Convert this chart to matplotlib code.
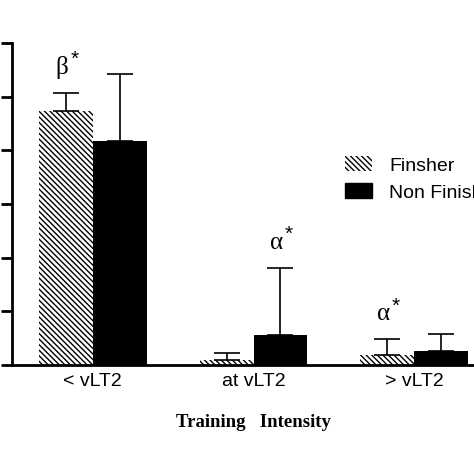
import matplotlib
matplotlib.use("Agg")
import matplotlib.pyplot as plt
import numpy as np
from matplotlib.patches import Patch

# time spent in each zone (% of training)
categories = ["< vLT2", "at vLT2", "> vLT2"]
finisher = [94.8, 1.9, 3.7]
finisher_err = [6.7, 2.6, 6.0]
non_finisher = [83.6, 11.2, 5.2]
non_finisher_err = [25.0, 25.0, 6.4]
yticks = [0, 20, 40, 60, 80, 100, 120]

# significance marks: (group, series, greek letter)
marks = [(0, 0, "β"), (1, 1, "α"), (2, 0, "α")]

plt.rcParams["hatch.linewidth"] = 1.0
plt.rcParams["font.family"] = "Liberation Sans"

fig = plt.figure(figsize=(4.74, 4.74), dpi=100)
# the original is a crop: y labels on the left and legend text on the right run off the canvas
ax = fig.add_axes([0.0253, 0.230, 1.12, 0.679])

x = np.arange(len(categories))
w = 0.335
hatch = "\\\\\\\\\\\\"
ax.bar(x - w / 2, finisher, w, color="white", edgecolor="black", hatch=hatch, linewidth=0)
ax.bar(x + w / 2, non_finisher, w, color="black", edgecolor="black", linewidth=0)

ax.errorbar(x - w / 2, finisher, yerr=[np.zeros(3), finisher_err], fmt="none",
            ecolor="black", elinewidth=1.2, capsize=9.4, capthick=1.2)
ax.errorbar(x + w / 2, non_finisher, yerr=[np.zeros(3), non_finisher_err], fmt="none",
            ecolor="black", elinewidth=1.2, capsize=9.4, capthick=1.2)

vals = [finisher, non_finisher]
errs = [finisher_err, non_finisher_err]
for g, s, letter in marks:
    xp = g + (s - 0.5) * w
    top = vals[s][g] + errs[s][g]
    ax.annotate(letter, (xp, top), xytext=(-3, 10), textcoords="offset points",
                ha="center", va="bottom", fontsize=18, family="Liberation Serif")
    ax.annotate("*", (xp, top), xytext=(6, 17), textcoords="offset points",
                ha="center", va="bottom", fontsize=15)

ax.set_xlim(-0.503, 2.8)
ax.set_ylim(0, 120)
ax.set_yticks(yticks)
ax.set_yticklabels([])
ax.set_xticks(x)
ax.set_xticklabels(categories, fontsize=14)
ax.tick_params(axis="x", length=0, pad=6)
ax.tick_params(axis="y", length=8, width=2)
for side in ["top", "right"]:
    ax.spines[side].set_visible(False)
for side in ["left", "bottom"]:
    ax.spines[side].set_linewidth(2)

fig.text(0.534, 0.108, "Training   Intensity", ha="center", va="center",
         fontsize=13.5, fontweight="bold", family="Liberation Serif")

handles = [Patch(facecolor="white", edgecolor="black", hatch=hatch, linewidth=0, label="Finsher"),
           Patch(facecolor="black", edgecolor="black", label="Non Finisher")]
fig.legend(handles=handles, loc="upper left", bbox_to_anchor=(0.69, 0.707), frameon=False,
           fontsize=14, handlelength=1.4, handleheight=0.8, handletextpad=0.9, labelspacing=0.45)

plt.savefig("out.png", dpi=100)
